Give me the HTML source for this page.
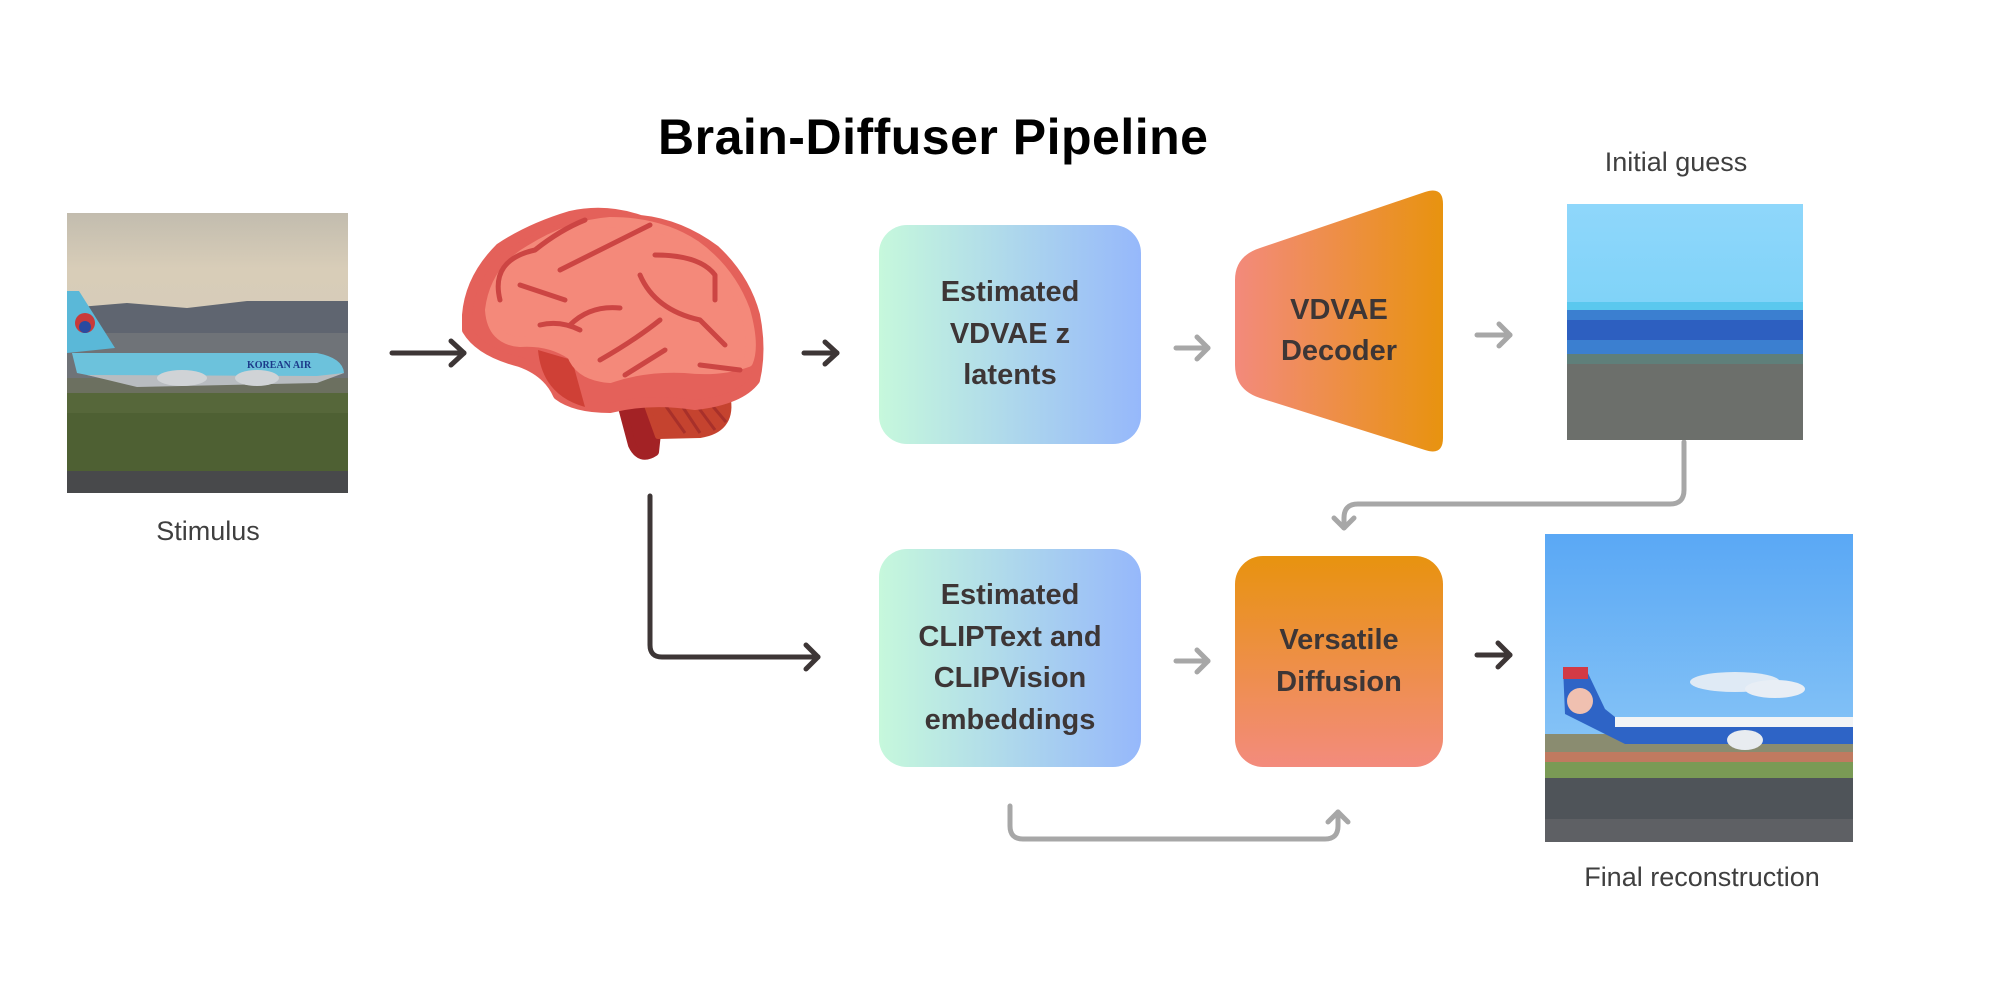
<!DOCTYPE html>
<html><head><meta charset="utf-8"><style>
html,body{margin:0;padding:0;background:#fff;}
body{width:2000px;height:1000px;position:relative;overflow:hidden;font-family:"Liberation Sans",sans-serif;}
.t{position:absolute;white-space:nowrap;}
.lbl{font-size:27px;color:#3f3f3f;transform:translateX(-50%);}
.box{position:absolute;border-radius:28px;display:flex;align-items:center;justify-content:center;text-align:center;font-weight:bold;font-size:29px;line-height:41.5px;color:#3d3636;}
.g{background:linear-gradient(90deg,#c6f8dc,#96b8fb);}
</style></head><body>
<svg width="2000" height="1000" style="position:absolute;left:0;top:0">
<defs>
<linearGradient id="trap" x1="0" x2="1" y1="0" y2="0"><stop offset="0" stop-color="#f38a7c"/><stop offset="1" stop-color="#e8930f"/></linearGradient>
<linearGradient id="vd" x1="0" x2="0" y1="0" y2="1"><stop offset="0" stop-color="#e8930f"/><stop offset="1" stop-color="#f38b7d"/></linearGradient>
<linearGradient id="sky1" x1="0" x2="0" y1="0" y2="1"><stop offset="0" stop-color="#c2bcae"/><stop offset="0.2" stop-color="#d8cdb8"/><stop offset="1" stop-color="#cfc9c0"/></linearGradient>
<linearGradient id="sky2" x1="0" x2="0" y1="0" y2="1"><stop offset="0" stop-color="#8fd7fb"/><stop offset="1" stop-color="#6bcdf4"/></linearGradient>
<linearGradient id="sky3" x1="0" x2="0" y1="0" y2="1"><stop offset="0" stop-color="#5aa8f5"/><stop offset="1" stop-color="#9ad0f6"/></linearGradient>
</defs>
<!-- stimulus image -->
<g transform="translate(67,213)">
<rect width="281" height="280" fill="url(#sky1)"/>
<path d="M0 95 L60 90 L120 95 L180 88 L281 88 L281 130 L0 130Z" fill="#5f6570"/>
<rect y="120" width="281" height="45" fill="#6f7378"/>
<rect y="165" width="281" height="15" fill="#6c7060"/>
<rect y="180" width="281" height="80" fill="#56673a"/>
<rect y="200" width="281" height="60" fill="#4e6033"/>
<rect y="258" width="281" height="22" fill="#48494b"/>
<path d="M0 78 L12 78 L48 135 L0 140Z" fill="#5ab8d8"/>
<circle cx="18" cy="110" r="10" fill="#c83a3a"/><circle cx="18" cy="114" r="6" fill="#2a4aa0"/>
<path d="M5 140 L250 140 Q276 145 277 160 L250 168 L70 172 L10 160Z" fill="#6cc2dc"/>
<path d="M20 162 L250 163 L277 160 L250 170 L70 174Z" fill="#b8bcc0"/>
<ellipse cx="115" cy="165" rx="25" ry="8" fill="#d0d3d6"/><ellipse cx="190" cy="165" rx="22" ry="8" fill="#d0d3d6"/>
<text x="180" y="155" font-size="10" font-weight="bold" fill="#1c3a8a" font-family="Liberation Serif">KOREAN AIR</text>
</g>
<!-- brain -->
<g transform="translate(460,200)" stroke-linejoin="round">
<path d="M160 200 L172 245 Q180 262 195 252 L200 205Z" fill="#a32225" stroke="#a32225" stroke-width="8"/>
<path d="M185 200 L268 200 Q272 230 240 235 L198 236 Z" fill="#c5432f" stroke="#c5432f" stroke-width="6"/>
<g stroke="#a8302a" stroke-width="3"><path d="M205 205 L225 233"/><path d="M220 203 L240 233"/><path d="M235 203 L255 230"/><path d="M250 203 L266 222"/></g>
<path d="M7 115 Q10 78 40 48 Q70 28 110 16 Q145 8 180 20 Q220 24 255 50 Q285 78 295 115 Q302 150 295 180 Q280 200 235 205 Q190 198 150 208 Q115 208 98 195 Q88 172 60 162 Q20 152 7 130Z" fill="#e4615a" stroke="#e4615a" stroke-width="10"/>
<path d="M78 150 Q82 195 125 207 L112 160Z" fill="#cf4036"/>
<path d="M30 110 Q35 70 70 50 Q110 25 150 22 Q200 22 235 45 Q270 70 285 110 Q295 145 288 162 Q260 172 225 168 Q185 166 150 178 Q120 176 112 155 Q90 140 60 142 Q32 140 30 110Z" fill="#f4897a" stroke="#f4897a" stroke-width="10"/>
<g stroke="#cc4543" stroke-width="5" fill="none" stroke-linecap="round">
<path d="M40 100 Q30 60 75 50 Q100 30 125 20"/><path d="M60 85 Q90 95 105 100"/><path d="M100 70 Q140 50 190 25"/><path d="M195 55 Q240 55 255 75 L255 100"/><path d="M180 75 Q195 110 240 120 L265 145"/><path d="M140 160 Q175 140 200 120"/><path d="M80 125 Q100 120 120 130"/><path d="M240 165 L280 170"/><path d="M165 175 L205 150"/><path d="M110 125 Q130 105 160 108"/>
</g>
</g>
<!-- dark arrows -->
<g stroke="#3d3636" stroke-width="5" fill="none" stroke-linecap="round" stroke-linejoin="round">
<path d="M392 353 L464 353"/><path d="M451 341 L464 353 L451 365"/>
<path d="M804 353 L837 353"/><path d="M825 342 L837 353 L825 364"/>
<path d="M650 496 L650 645 Q650 657 662 657 L818 657"/><path d="M806 645 L818 657 L806 669"/>
<path d="M1477 655 L1510 655"/><path d="M1498 643 L1510 655 L1498 667"/>
</g>
<!-- gray arrows -->
<g stroke="#a7a7a7" stroke-width="5" fill="none" stroke-linecap="round" stroke-linejoin="round">
<path d="M1176 348 L1208 348"/><path d="M1197 337 L1208 348 L1197 359"/>
<path d="M1477 335 L1510 335"/><path d="M1499 324 L1510 335 L1499 346"/>
<path d="M1176 661 L1208 661"/><path d="M1197 650 L1208 661 L1197 672"/>
<path d="M1684 442 L1684 490 Q1684 504 1670 504 L1358 504 Q1344 504 1344 518 L1344 528"/><path d="M1334 518 L1344 528 L1354 518"/>
<path d="M1010 806 L1010 826 Q1010 839 1023 839 L1325 839 Q1338 839 1338 826 L1338 812"/><path d="M1328 822 L1338 812 L1348 822"/>
</g>
<!-- trapezoid -->
<path d="M1260 248 L1425 192 Q1443 186 1443 204 L1443 438 Q1443 456 1425 450 L1260 398 Q1235 390 1235 365 L1235 280 Q1235 256 1260 248Z" fill="url(#trap)"/>
<rect x="1235" y="556" width="208" height="211" rx="28" fill="url(#vd)"/>
<!-- initial guess -->
<g transform="translate(1567,204)">
<rect width="236" height="236" fill="url(#sky2)"/>
<rect y="98" width="236" height="18" fill="#5ac8ee"/>
<rect y="106" width="236" height="48" fill="#3b7fd0"/>
<rect y="116" width="236" height="20" fill="#2d5fc0"/>
<rect y="150" width="236" height="14" fill="#5f7f7a"/>
<rect y="160" width="236" height="76" fill="#6c6f6b"/>
</g>
<!-- final -->
<g transform="translate(1545,534)">
<rect width="308" height="308" fill="url(#sky3)"/>
<ellipse cx="190" cy="148" rx="45" ry="10" fill="#dfeaf5"/><ellipse cx="230" cy="155" rx="30" ry="9" fill="#e8eef5"/>
<rect y="200" width="308" height="20" fill="#8a8c70"/>
<rect y="218" width="308" height="10" fill="#c07a60"/>
<rect y="228" width="308" height="18" fill="#7a9a55"/>
<rect y="244" width="308" height="64" fill="#4f5459"/>
<rect y="285" width="308" height="23" fill="#5e6064"/>
<path d="M18 133 L40 133 L60 175 L70 183 L308 183 L308 210 L80 210 L20 180Z" fill="#2e64c6"/>
<rect x="70" y="183" width="238" height="10" fill="#f2f4f6"/>
<rect x="18" y="133" width="25" height="12" fill="#d23a45"/>
<circle cx="35" cy="167" r="13" fill="#f0c0b0"/>
<ellipse cx="200" cy="206" rx="18" ry="10" fill="#e8ecf0"/>
</g>
</svg>
<div class="t" style="left:658px;top:108px;font-size:50px;font-weight:bold;color:#000;letter-spacing:0.5px">Brain-Diffuser Pipeline</div>
<div class="t lbl" style="left:208px;top:516px">Stimulus</div>
<div class="t lbl" style="left:1676px;top:147px">Initial guess</div>
<div class="t lbl" style="left:1702px;top:862px">Final reconstruction</div>
<div class="box g" style="left:879px;top:225px;width:262px;height:219px">Estimated<br>VDVAE z<br>latents</div>
<div class="box g" style="left:879px;top:549px;width:262px;height:218px">Estimated<br>CLIPText and<br>CLIPVision<br>embeddings</div>
<div class="box" style="left:1235px;top:290px;width:208px;height:82px">VDVAE<br>Decoder</div>
<div class="box" style="left:1235px;top:556px;width:208px;height:211px">Versatile<br>Diffusion</div>
</body></html>
